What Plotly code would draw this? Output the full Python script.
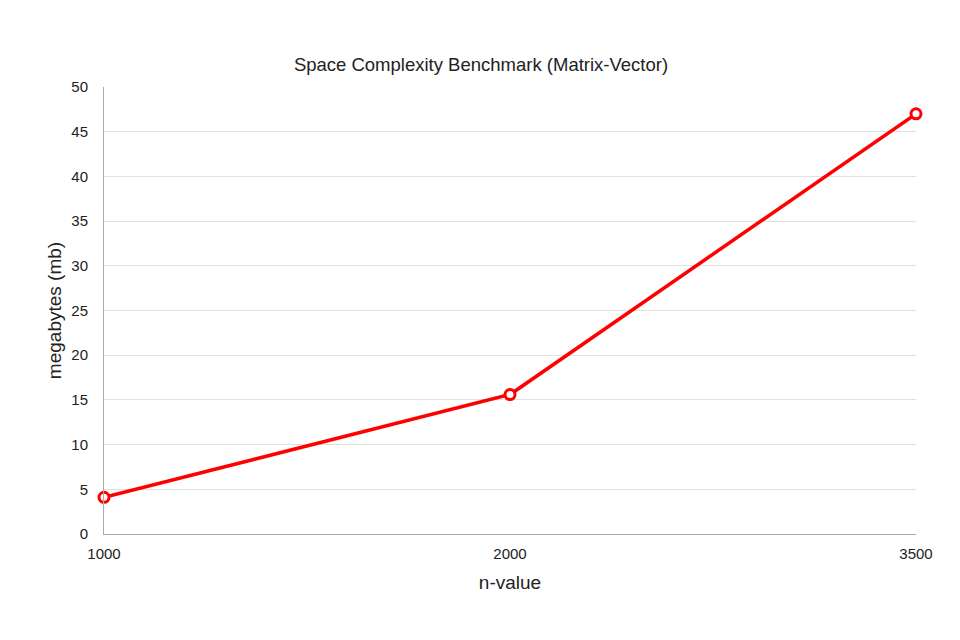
import plotly.graph_objects as go

n_values = ["1000", "2000", "3500"]
megabytes = [4.1, 15.6, 47.0]

fig = go.Figure(
    go.Scatter(
        x=n_values,
        y=megabytes,
        mode="lines+markers",
        line={"color": "#ff0000", "width": 3.5},
        marker={"symbol": "circle", "size": 10, "color": "white",
                "line": {"color": "#ff0000", "width": 3}},
        cliponaxis=False,
        showlegend=False,
    )
)

# page body has an 8px margin, so the figure is sized to fit the window
fig.update_layout(
    width=952,
    height=632,
    paper_bgcolor="white",
    plot_bgcolor="white",
    font={"family": "Liberation Sans, Arial, sans-serif", "color": "#222222"},
    margin={"l": 96, "r": 44, "t": 79, "b": 106},
    title={"text": "Space Complexity Benchmark (Matrix-Vector)", "x": (481 - 8) / 952, "xanchor": "center",
           "y": 1 - 57 / 632, "yanchor": "middle", "font": {"size": 18.5}},
)
fig.update_xaxes(
    type="category",
    range=[0, 2],
    showgrid=False,
    showline=True,
    linecolor="#aaaaaa",
    linewidth=1,
    ticks="",
    ticklabelstandoff=6,
    tickfont={"size": 15, "color": "#222222"},
    title={"text": "n-value", "font": {"size": 19}, "standoff": 14},
)
fig.update_yaxes(
    range=[0, 50],
    dtick=5,
    showgrid=True,
    gridcolor="#e0e0e0",
    zeroline=False,
    showline=True,
    linecolor="#aaaaaa",
    linewidth=1,
    ticks="",
    ticklabelstandoff=12,
    tickfont={"size": 15, "color": "#222222"},
    title={"text": "megabytes (mb)", "font": {"size": 19}, "standoff": 4},
)

fig.write_html("out.html")
